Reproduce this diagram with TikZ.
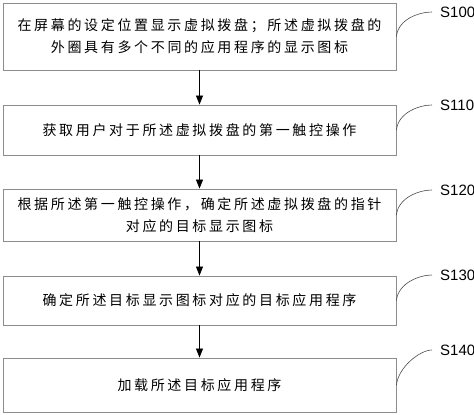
\documentclass[tikz,border=0pt]{standalone}
\usepackage{fontspec}
\usepackage{tikz}
\usetikzlibrary{arrows.meta}
\setmainfont{Liberation Sans}
\newfontfamily\cjk[LetterSpace=19]{Noto Sans CJK SC}
\tikzset{>={Stealth[length=9pt,width=7pt,inset=0pt]}}
\tikzset{
  stepbox/.style={draw=black!45,line width=0.8pt,minimum width=393pt,
    align=center,inner sep=0pt,font=\cjk\fontsize{14pt}{22pt}\selectfont},
  steplabel/.style={anchor=west,inner sep=0pt,font=\fontsize{15pt}{18pt}\selectfont}
}

\begin{document}
\begin{tikzpicture}[x=1pt,y=1pt]
      \useasboundingbox (0,0) rectangle (474,415);
      \node[stepbox,minimum height=67pt] (s100) at (199.5,378.5) {在屏幕的设定位置显示虚拟拨盘；所述虚拟拨盘的\\外圈具有多个不同的应用程序的显示图标};
      \node[stepbox,minimum height=50pt] (s110) at (199.5,285) {获取用户对于所述虚拟拨盘的第一触控操作};
      \node[stepbox,minimum height=52pt] (s120) at (199.5,200) {根据所述第一触控操作，确定所述虚拟拨盘的指针\\对应的目标显示图标};
      \node[stepbox,minimum height=49pt] (s130) at (199.5,114.5) {确定所述目标显示图标对应的目标应用程序};
      \node[stepbox,minimum height=54pt] (s140) at (199.5,30) {加载所述目标应用程序};
      \draw[->,line width=0.8pt] (s100) -- (s110);
      \draw[->,line width=0.8pt] (s110) -- (s120);
      \draw[->,line width=0.8pt] (s120) -- (s130);
      \draw[->,line width=0.8pt] (s130) -- (s140);
      \foreach \s/\y in {s100/403,s110/310,s120/225,s130/140,s140/65}{
        \node[steplabel] (\s-lbl) at (440,\y) {\MakeUppercase{\s}};
        \draw[black!70,line width=0.6pt] (\s.east) .. controls +(2,18) and +(-12,0) .. ([xshift=-8pt]\s-lbl.west);
      }
    \end{tikzpicture}
\end{document}
